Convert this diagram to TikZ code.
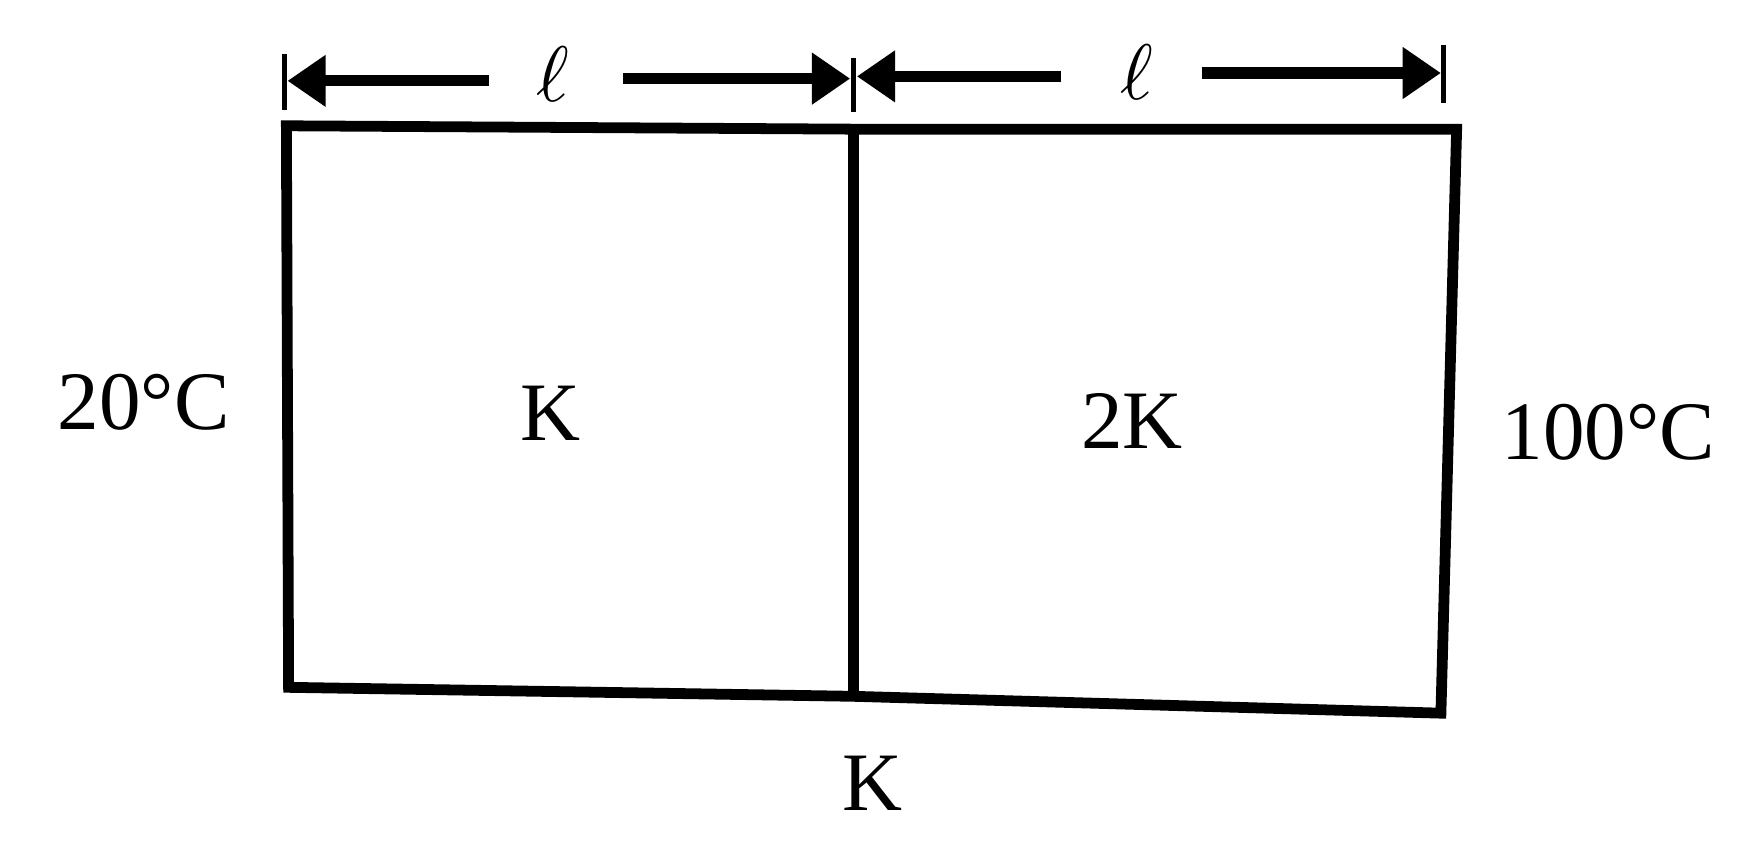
\documentclass[tikz,border=0pt]{standalone}
\usepackage{amsmath}
\usepackage{fontspec}
\setmainfont{Liberation Serif}
\usetikzlibrary{arrows.meta}
\begin{document}
\begin{tikzpicture}[x=0.5pt,y=-0.5pt,
  wall/.style={line width=4.8pt,line join=miter},
  dimline/.style={line width=5pt,-{Triangle[length=17pt,width=22pt]}},
  tick/.style={line width=2.2pt},
  lbl/.style={font=\fontsize{37}{40}\selectfont,inner sep=0pt},
  elllbl/.style={inner sep=0pt}]
\useasboundingbox (0,0) rectangle (1560,750.6);
% box corners
\coordinate (tl) at (255,112);
\coordinate (tm) at (760,115);
\coordinate (tr) at (1297,115);
\coordinate (br) at (1283,635);
\coordinate (bm) at (760,620);
\coordinate (bl) at (257,612);
\draw[wall] (tl) -- (tm) -- (tr) -- (br) -- (bm) -- (bl) -- cycle;
\draw[wall] (tm) -- (bm);
% dimension ticks
\coordinate (t1a) at (253,48); \coordinate (t1b) at (253,98);
\coordinate (t2a) at (760,52); \coordinate (t2b) at (760,100);
\coordinate (t3a) at (1285,40); \coordinate (t3b) at (1285,92);
\draw[tick] (t1a) -- (t1b);
\draw[tick] (t2a) -- (t2b);
\draw[tick] (t3a) -- (t3b);
% dimension arrows
\node[elllbl] (l1) at (492,66) {\scalebox{3.5}{$\ell$}};
\node[elllbl] (l2) at (1012,64) {\scalebox{3.5}{$\ell$}};
\coordinate (a1s) at (435,72); \coordinate (a1e) at (256,72);
\coordinate (a2s) at (555,70); \coordinate (a2e) at (757,70);
\coordinate (a3s) at (945,68); \coordinate (a3e) at (763,68);
\coordinate (a4s) at (1070,65); \coordinate (a4e) at (1283,65);
\draw[dimline] (a1s) -- (a1e);
\draw[dimline] (a2s) -- (a2e);
\draw[dimline] (a3s) -- (a3e);
\draw[dimline] (a4s) -- (a4e);
% labels
\node[lbl] (tleft) at (128,358) {20°C};
\node[lbl] (k1) at (490,368) {K};
\node[lbl] (k2) at (1008,375) {2K};
\node[lbl] (tright) at (1432,385) {100°C};
\node[lbl] (k3) at (777,697) {K};
\end{tikzpicture}
\end{document}
